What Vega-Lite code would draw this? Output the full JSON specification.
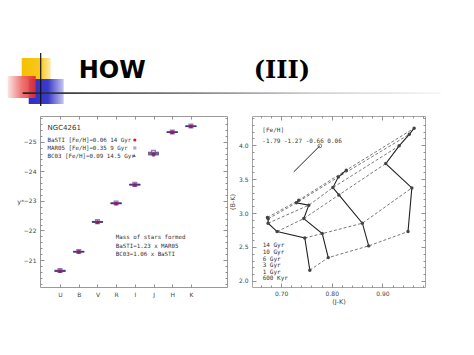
{
  "$schema": "https://vega.github.io/schema/vega-lite/v6.json",
  "background": "white",
  "padding": {"left": 7, "top": 52, "right": 0, "bottom": 0},
  "bounds": "flush",
  "spacing": 10,
  "config": {
    "view": {"stroke": null},
    "axis": {"grid": false, "domain": false, "labelFont": "DejaVu Sans", "labelFontSize": 6, "labelColor": "#444", "tickColor": "#777", "tickWidth": 0.8, "titleFont": "DejaVu Sans", "titleFontSize": 6.5, "titleFontWeight": "normal", "titleColor": "#444"}
  },
  "datasets": {
    "deco": [
      {"shape": "yellow", "x": 21, "x2": 50, "y": 57, "y2": 78},
      {"shape": "blue", "x": 28, "x2": 63, "y": 78, "y2": 103},
      {"shape": "red", "x": 7, "x2": 35, "y": 75, "y2": 97},
      {"shape": "underline", "x": 22, "x2": 440, "y": 91.2, "y2": 93},
      {"shape": "vline", "x": 40, "x2": 40, "y": 52, "y2": 105}
    ],
    "titles": [
      {"label": "HOW", "x": 78, "y": 77.3},
      {"label": "(III)", "x": 253, "y": 77.3}
    ],
    "sed": [
      {"band": "U", "pos": 1, "model": "BaSTI", "mag": -20.63},
      {"band": "U", "pos": 1, "model": "MAR05", "mag": -20.65},
      {"band": "U", "pos": 1, "model": "BC03", "mag": -20.62},
      {"band": "B", "pos": 2, "model": "BaSTI", "mag": -21.28},
      {"band": "B", "pos": 2, "model": "MAR05", "mag": -21.29},
      {"band": "B", "pos": 2, "model": "BC03", "mag": -21.28},
      {"band": "V", "pos": 3, "model": "BaSTI", "mag": -22.28},
      {"band": "V", "pos": 3, "model": "MAR05", "mag": -22.3},
      {"band": "V", "pos": 3, "model": "BC03", "mag": -22.29},
      {"band": "R", "pos": 4, "model": "BaSTI", "mag": -22.91},
      {"band": "R", "pos": 4, "model": "MAR05", "mag": -22.93},
      {"band": "R", "pos": 4, "model": "BC03", "mag": -22.92},
      {"band": "I", "pos": 5, "model": "BaSTI", "mag": -23.54},
      {"band": "I", "pos": 5, "model": "MAR05", "mag": -23.56},
      {"band": "I", "pos": 5, "model": "BC03", "mag": -23.55},
      {"band": "J", "pos": 6, "model": "BaSTI", "mag": -24.56},
      {"band": "J", "pos": 6, "model": "MAR05", "mag": -24.64},
      {"band": "J", "pos": 6, "model": "BC03", "mag": -24.6},
      {"band": "H", "pos": 7, "model": "BaSTI", "mag": -25.32},
      {"band": "H", "pos": 7, "model": "MAR05", "mag": -25.33},
      {"band": "H", "pos": 7, "model": "BC03", "mag": -25.32},
      {"band": "K", "pos": 8, "model": "BaSTI", "mag": -25.52},
      {"band": "K", "pos": 8, "model": "MAR05", "mag": -25.53},
      {"band": "K", "pos": 8, "model": "BC03", "mag": -25.52}
    ],
    "legendSym": [
      {"model": "BaSTI", "pos": 5.0, "mag": -25.06},
      {"model": "MAR05", "pos": 5.0, "mag": -24.79},
      {"model": "BC03", "pos": 4.97, "mag": -24.53}
    ],
    "sedText": [
      {"label": "NGC4261", "pos": 0.33, "mag": -25.46},
      {"label": "BaSTI [Fe/H]=0.06 14 Gyr", "pos": 0.33, "mag": -25.06},
      {"label": "MAR05 [Fe/H]=0.35 9 Gyr", "pos": 0.33, "mag": -24.79},
      {"label": "BC03 [Fe/H]=0.09 14.5 Gyr", "pos": 0.33, "mag": -24.53},
      {"label": "Mass of stars formed", "pos": 3.98, "mag": -21.78},
      {"label": "BaSTI=1.23 x MAR05", "pos": 3.98, "mag": -21.49},
      {"label": "BC03=1.06 x BaSTI", "pos": 3.98, "mag": -21.2}
    ],
    "iso": [
      {"feh": "-1.79", "fehOrder": 1, "age": "14 Gyr", "ageOrder": 1, "jk": 0.673, "bk": 2.935},
      {"feh": "-1.79", "fehOrder": 1, "age": "10 Gyr", "ageOrder": 2, "jk": 0.6745, "bk": 2.915},
      {"feh": "-1.79", "fehOrder": 1, "age": "6 Gyr", "ageOrder": 3, "jk": 0.6743, "bk": 2.85},
      {"feh": "-1.79", "fehOrder": 1, "age": "3 Gyr", "ageOrder": 4, "jk": 0.6921, "bk": 2.727},
      {"feh": "-1.79", "fehOrder": 1, "age": "1 Gyr", "ageOrder": 5, "jk": 0.7468, "bk": 2.633},
      {"feh": "-1.79", "fehOrder": 1, "age": "600 Kyr", "ageOrder": 6, "jk": 0.7567, "bk": 2.158},
      {"feh": "-1.27", "fehOrder": 2, "age": "14 Gyr", "ageOrder": 1, "jk": 0.7349, "bk": 3.189},
      {"feh": "-1.27", "fehOrder": 2, "age": "10 Gyr", "ageOrder": 2, "jk": 0.7303, "bk": 3.15},
      {"feh": "-1.27", "fehOrder": 2, "age": "6 Gyr", "ageOrder": 3, "jk": 0.7547, "bk": 3.116},
      {"feh": "-1.27", "fehOrder": 2, "age": "3 Gyr", "ageOrder": 4, "jk": 0.7448, "bk": 2.918},
      {"feh": "-1.27", "fehOrder": 2, "age": "1 Gyr", "ageOrder": 5, "jk": 0.7812, "bk": 2.697},
      {"feh": "-1.27", "fehOrder": 2, "age": "600 Kyr", "ageOrder": 6, "jk": 0.7931, "bk": 2.343},
      {"feh": "-0.66", "fehOrder": 3, "age": "14 Gyr", "ageOrder": 1, "jk": 0.8287, "bk": 3.632},
      {"feh": "-0.66", "fehOrder": 3, "age": "10 Gyr", "ageOrder": 2, "jk": 0.8129, "bk": 3.53},
      {"feh": "-0.66", "fehOrder": 3, "age": "6 Gyr", "ageOrder": 3, "jk": 0.8022, "bk": 3.375},
      {"feh": "-0.66", "fehOrder": 3, "age": "3 Gyr", "ageOrder": 4, "jk": 0.8141, "bk": 3.267},
      {"feh": "-0.66", "fehOrder": 3, "age": "1 Gyr", "ageOrder": 5, "jk": 0.8604, "bk": 2.85},
      {"feh": "-0.66", "fehOrder": 3, "age": "600 Kyr", "ageOrder": 6, "jk": 0.8729, "bk": 2.516},
      {"feh": "0.06", "fehOrder": 4, "age": "14 Gyr", "ageOrder": 1, "jk": 0.9626, "bk": 4.25},
      {"feh": "0.06", "fehOrder": 4, "age": "10 Gyr", "ageOrder": 2, "jk": 0.953, "bk": 4.16},
      {"feh": "0.06", "fehOrder": 4, "age": "6 Gyr", "ageOrder": 3, "jk": 0.933, "bk": 3.99},
      {"feh": "0.06", "fehOrder": 4, "age": "3 Gyr", "ageOrder": 4, "jk": 0.9066, "bk": 3.729},
      {"feh": "0.06", "fehOrder": 4, "age": "1 Gyr", "ageOrder": 5, "jk": 0.958, "bk": 3.37},
      {"feh": "0.06", "fehOrder": 4, "age": "600 Kyr", "ageOrder": 6, "jk": 0.9505, "bk": 2.727}
    ],
    "vec": [
      {"seq": 1, "jk": 0.725, "bk": 3.607, "end": false},
      {"seq": 2, "jk": 0.7765, "bk": 3.99, "end": true}
    ],
    "isoText": [
      {"label": "[Fe/H]", "jk": 0.663, "bk": 4.218},
      {"label": "-1.79 -1.27 -0.66 0.06", "jk": 0.663, "bk": 4.063},
      {"label": "14 Gyr", "jk": 0.6636, "bk": 2.526},
      {"label": "10 Gyr", "jk": 0.6636, "bk": 2.427},
      {"label": "6 Gyr", "jk": 0.6636, "bk": 2.329},
      {"label": "3 Gyr", "jk": 0.6636, "bk": 2.231},
      {"label": "1 Gyr", "jk": 0.6636, "bk": 2.137},
      {"label": "600 Kyr", "jk": 0.6636, "bk": 2.044}
    ]
  },
  "vconcat": [
    {
      "width": 400,
      "height": 53,
      "layer": [
        {
          "data": {"name": "deco"},
          "transform": [{"filter": "datum.shape == 'yellow'"}],
          "mark": {"type": "rect", "fill": {"gradient": "linear", "x1": 0, "y1": 0, "x2": 1, "y2": 0, "stops": [{"offset": 0, "color": "#f5c000"}, {"offset": 0.65, "color": "#f8c81c"}, {"offset": 1, "color": "#fdebb0"}]}},
          "encoding": {
            "x": {"field": "x", "type": "quantitative", "scale": {"domain": [39.3, 439.3], "nice": false, "zero": false}, "axis": null},
            "x2": {"field": "x2"},
            "y": {"field": "y", "type": "quantitative", "scale": {"domain": [52, 105], "reverse": true, "nice": false, "zero": false}, "axis": null},
            "y2": {"field": "y2"}
          }
        },
        {
          "data": {"name": "deco"},
          "transform": [{"filter": "datum.shape == 'blue'"}],
          "mark": {"type": "rect", "fill": {"gradient": "linear", "x1": 0, "y1": 0, "x2": 1, "y2": 0, "stops": [{"offset": 0, "color": "#2f2fc4"}, {"offset": 0.55, "color": "#3a3ac9"}, {"offset": 1, "color": "#c5c5f0"}]}},
          "encoding": {
            "x": {"field": "x", "type": "quantitative"},
            "x2": {"field": "x2"},
            "y": {"field": "y", "type": "quantitative"},
            "y2": {"field": "y2"}
          }
        },
        {
          "data": {"name": "deco"},
          "transform": [{"filter": "datum.shape == 'red'"}],
          "mark": {"type": "rect", "opacity": 0.92, "fill": {"gradient": "linear", "x1": 0, "y1": 0, "x2": 1, "y2": 0, "stops": [{"offset": 0, "color": "#fbe3e3"}, {"offset": 0.5, "color": "#ee6a6a"}, {"offset": 1, "color": "#e02a2a"}]}},
          "encoding": {
            "x": {"field": "x", "type": "quantitative"},
            "x2": {"field": "x2"},
            "y": {"field": "y", "type": "quantitative"},
            "y2": {"field": "y2"}
          }
        },
        {
          "data": {"name": "deco"},
          "transform": [{"filter": "datum.shape == 'underline'"}],
          "mark": {"type": "rect", "fill": {"gradient": "linear", "x1": 0, "y1": 0, "x2": 1, "y2": 0, "stops": [{"offset": 0, "color": "#222222"}, {"offset": 0.35, "color": "#777777"}, {"offset": 0.7, "color": "#cfcfcf"}, {"offset": 1, "color": "#f6f6f6"}]}},
          "encoding": {
            "x": {"field": "x", "type": "quantitative"},
            "x2": {"field": "x2"},
            "y": {"field": "y", "type": "quantitative"},
            "y2": {"field": "y2"}
          }
        },
        {
          "data": {"name": "deco"},
          "transform": [{"filter": "datum.shape == 'vline'"}],
          "mark": {"type": "rule", "color": "#111", "strokeWidth": 1.2},
          "encoding": {
            "x": {"field": "x", "type": "quantitative"},
            "y": {"field": "y", "type": "quantitative"},
            "y2": {"field": "y2"}
          }
        },
        {
          "data": {"name": "titles"},
          "transform": [{"filter": "datum.label == 'HOW'"}],
          "mark": {"type": "text", "font": "DejaVu Sans", "fontWeight": "bold", "fontSize": 24, "align": "left", "baseline": "alphabetic", "color": "#000"},
          "encoding": {
            "x": {"field": "x", "type": "quantitative"},
            "y": {"field": "y", "type": "quantitative"},
            "text": {"field": "label"}
          }
        },
        {
          "data": {"name": "titles"},
          "transform": [{"filter": "datum.label != 'HOW'"}],
          "mark": {"type": "text", "font": "DejaVu Serif", "fontWeight": "bold", "fontSize": 24, "align": "left", "baseline": "alphabetic", "color": "#000"},
          "encoding": {
            "x": {"field": "x", "type": "quantitative"},
            "y": {"field": "y", "type": "quantitative"},
            "text": {"field": "label"}
          }
        }
      ]
    },
    {
      "bounds": "flush",
      "spacing": 25,
      "hconcat": [
        {
          "width": 187,
          "height": 171,
          "view": {"stroke": "#9a9a9a", "strokeWidth": 1},
          "resolve": {"axis": {"x": "independent", "y": "independent"}},
          "layer": [
            {
              "data": {"name": "sed"},
              "mark": {"type": "point", "opacity": 0},
              "encoding": {
                "x": {"field": "pos", "type": "quantitative", "scale": {"domain": [-0.071, 9.93], "nice": false, "zero": false},
                  "axis": {"orient": "bottom", "values": [1, 2, 3, 4, 5, 6, 7, 8], "labelExpr": "['U','B','V','R','I','J','H','K'][datum.value - 1]", "tickSize": -3, "labelPadding": 7, "title": null}},
                "y": {"field": "mag", "type": "quantitative", "scale": {"domain": [-25.87, -20.09], "reverse": true, "nice": false, "zero": false},
                  "axis": {"orient": "left", "values": [-25.8, -25.6, -25.4, -25.2, -25, -24.8, -24.6, -24.4, -24.2, -24, -23.8, -23.6, -23.4, -23.2, -23, -22.8, -22.6, -22.4, -22.2, -22, -21.8, -21.6, -21.4, -21.2, -21, -20.8, -20.6, -20.4, -20.2],
                    "labelExpr": "abs(datum.value - round(datum.value)) < 0.01 ? format(datum.value, 'd') : ''",
                    "tickSize": {"condition": {"test": "abs(datum.value - round(datum.value)) < 0.01", "value": -4}, "value": -2},
                    "labelPadding": 8, "title": "yᵃ", "titleAngle": 0, "titleX": -20, "titleY": 85, "titleAlign": "center", "titleBaseline": "middle", "titleFontSize": 6.5}}
              }
            },
            {
              "data": {"name": "sed"},
              "mark": {"type": "point", "opacity": 0},
              "encoding": {
                "x": {"field": "pos", "type": "quantitative", "axis": {"orient": "top", "values": [1, 2, 3, 4, 5, 6, 7, 8], "labels": false, "tickSize": -3, "title": null}},
                "y": {"field": "mag", "type": "quantitative", "axis": {"orient": "right", "values": [-25.8, -25.6, -25.4, -25.2, -25, -24.8, -24.6, -24.4, -24.2, -24, -23.8, -23.6, -23.4, -23.2, -23, -22.8, -22.6, -22.4, -22.2, -22, -21.8, -21.6, -21.4, -21.2, -21, -20.8, -20.6, -20.4, -20.2], "labels": false,
                  "tickSize": {"condition": {"test": "abs(datum.value - round(datum.value)) < 0.01", "value": -4}, "value": -2}, "title": null}}
              }
            },
            {
              "data": {"name": "sed"},
              "mark": {"type": "tick", "orient": "horizontal", "size": 11, "thickness": 1.4, "color": "#3a2a72"},
              "encoding": {
                "x": {"field": "pos", "type": "quantitative", "axis": null},
                "y": {"field": "mag", "type": "quantitative", "axis": null}
              }
            },
            {
              "data": {"name": "sed"},
              "transform": [{"filter": "datum.model == 'MAR05'"}],
              "mark": {"type": "point", "shape": "square", "filled": false, "size": 15, "strokeWidth": 1.2, "color": "#7a3d9e"},
              "encoding": {
                "x": {"field": "pos", "type": "quantitative", "axis": null},
                "y": {"field": "mag", "type": "quantitative", "axis": null}
              }
            },
            {
              "data": {"name": "sed"},
              "transform": [{"filter": "datum.model == 'BC03'"}],
              "mark": {"type": "point", "shape": "triangle-up", "filled": true, "size": 14, "color": "#3b3f96"},
              "encoding": {
                "x": {"field": "pos", "type": "quantitative", "axis": null},
                "y": {"field": "mag", "type": "quantitative", "axis": null}
              }
            },
            {
              "data": {"name": "sed"},
              "transform": [{"filter": "datum.model == 'BaSTI'"}],
              "mark": {"type": "point", "shape": "circle", "filled": true, "size": 15, "opacity": 0.85, "color": "#8e1f5a"},
              "encoding": {
                "x": {"field": "pos", "type": "quantitative", "axis": null},
                "y": {"field": "mag", "type": "quantitative", "axis": null}
              }
            },
            {
              "data": {"name": "legendSym"},
              "mark": {"type": "point", "filled": true, "size": 10, "opacity": 1},
              "encoding": {
                "x": {"field": "pos", "type": "quantitative", "axis": null},
                "y": {"field": "mag", "type": "quantitative", "axis": null},
                "shape": {"field": "model", "type": "nominal", "scale": {"domain": ["BaSTI", "MAR05", "BC03"], "range": ["circle", "square", "triangle-up"]}, "legend": null},
                "color": {"field": "model", "type": "nominal", "scale": {"domain": ["BaSTI", "MAR05", "BC03"], "range": ["#c4202c", "#b8a0e0", "#4060b0"]}, "legend": null}
              }
            },
            {
              "data": {"name": "sedText"},
              "transform": [{"filter": "datum.label == 'NGC4261'"}],
              "mark": {"type": "text", "font": "DejaVu Sans", "fontSize": 7, "align": "left", "baseline": "middle", "color": "#333"},
              "encoding": {
                "x": {"field": "pos", "type": "quantitative", "axis": null},
                "y": {"field": "mag", "type": "quantitative", "axis": null},
                "text": {"field": "label"}
              }
            },
            {
              "data": {"name": "sedText"},
              "transform": [{"filter": "datum.label != 'NGC4261'"}],
              "mark": {"type": "text", "font": "DejaVu Sans Mono", "fontSize": 5.8, "align": "left", "baseline": "middle", "color": "#333"},
              "encoding": {
                "x": {"field": "pos", "type": "quantitative", "axis": null},
                "y": {"field": "mag", "type": "quantitative", "axis": null},
                "text": {"field": "label"}
              }
            }
          ]
        },
        {
          "width": 173,
          "height": 171,
          "view": {"stroke": "#a5a5a5", "strokeWidth": 1},
          "resolve": {"axis": {"x": "independent", "y": "independent"}},
          "layer": [
            {
              "data": {"name": "iso"},
              "mark": {"type": "point", "opacity": 0},
              "encoding": {
                "x": {"field": "jk", "type": "quantitative", "scale": {"domain": [0.6426, 0.984], "nice": false, "zero": false},
                  "axis": {"orient": "bottom", "values": [0.66, 0.68, 0.7, 0.72, 0.74, 0.76, 0.78, 0.8, 0.82, 0.84, 0.86, 0.88, 0.9, 0.92, 0.94, 0.96, 0.98],
                    "labelExpr": "abs(datum.value * 10 - round(datum.value * 10)) < 0.001 ? format(datum.value, '.2f') : ''",
                    "tickSize": {"condition": {"test": "abs(datum.value * 10 - round(datum.value * 10)) < 0.001", "value": -4}, "value": -2},
                    "labelPadding": 7, "title": "(J-K)", "titlePadding": 2}},
                "y": {"field": "bk", "type": "quantitative", "scale": {"domain": [1.91, 4.43], "nice": false, "zero": false},
                  "axis": {"orient": "left", "values": [2.0, 2.1, 2.2, 2.3, 2.4, 2.5, 2.6, 2.7, 2.8, 2.9, 3.0, 3.1, 3.2, 3.3, 3.4, 3.5, 3.6, 3.7, 3.8, 3.9, 4.0, 4.1, 4.2, 4.3, 4.4],
                    "labelExpr": "abs(datum.value * 2 - round(datum.value * 2)) < 0.001 ? format(datum.value, '.1f') : ''",
                    "tickSize": {"condition": {"test": "abs(datum.value * 2 - round(datum.value * 2)) < 0.001", "value": -4}, "value": -2},
                    "labelPadding": 8, "title": "(B-K)", "titlePadding": 3}}
              }
            },
            {
              "data": {"name": "iso"},
              "mark": {"type": "point", "opacity": 0},
              "encoding": {
                "x": {"field": "jk", "type": "quantitative", "axis": {"orient": "top", "values": [0.66, 0.68, 0.7, 0.72, 0.74, 0.76, 0.78, 0.8, 0.82, 0.84, 0.86, 0.88, 0.9, 0.92, 0.94, 0.96, 0.98], "labels": false,
                  "tickSize": {"condition": {"test": "abs(datum.value * 10 - round(datum.value * 10)) < 0.001", "value": -4}, "value": -2}, "title": null}},
                "y": {"field": "bk", "type": "quantitative", "axis": {"orient": "right", "values": [2.0, 2.1, 2.2, 2.3, 2.4, 2.5, 2.6, 2.7, 2.8, 2.9, 3.0, 3.1, 3.2, 3.3, 3.4, 3.5, 3.6, 3.7, 3.8, 3.9, 4.0, 4.1, 4.2, 4.3, 4.4], "labels": false,
                  "tickSize": {"condition": {"test": "abs(datum.value * 2 - round(datum.value * 2)) < 0.001", "value": -4}, "value": -2}, "title": null}}
              }
            },
            {
              "data": {"name": "iso"},
              "mark": {"type": "line", "color": "#555", "strokeWidth": 0.8, "strokeDash": [3, 2]},
              "encoding": {
                "x": {"field": "jk", "type": "quantitative", "axis": null},
                "y": {"field": "bk", "type": "quantitative", "axis": null},
                "detail": {"field": "age", "type": "nominal"},
                "order": {"field": "fehOrder", "type": "quantitative"}
              }
            },
            {
              "data": {"name": "iso"},
              "mark": {"type": "line", "color": "#222", "strokeWidth": 1.1},
              "encoding": {
                "x": {"field": "jk", "type": "quantitative", "axis": null},
                "y": {"field": "bk", "type": "quantitative", "axis": null},
                "detail": {"field": "feh", "type": "nominal"},
                "order": {"field": "ageOrder", "type": "quantitative"}
              }
            },
            {
              "data": {"name": "iso"},
              "mark": {"type": "point", "filled": true, "size": 12, "color": "#444", "opacity": 1},
              "encoding": {
                "x": {"field": "jk", "type": "quantitative", "axis": null},
                "y": {"field": "bk", "type": "quantitative", "axis": null}
              }
            },
            {
              "data": {"name": "vec"},
              "mark": {"type": "line", "color": "#222", "strokeWidth": 1},
              "encoding": {
                "x": {"field": "jk", "type": "quantitative", "axis": null},
                "y": {"field": "bk", "type": "quantitative", "axis": null},
                "order": {"field": "seq", "type": "quantitative"}
              }
            },
            {
              "data": {"name": "vec"},
              "transform": [{"filter": "datum.end"}],
              "mark": {"type": "point", "filled": false, "size": 14, "color": "#333", "strokeWidth": 0.9},
              "encoding": {
                "x": {"field": "jk", "type": "quantitative", "axis": null},
                "y": {"field": "bk", "type": "quantitative", "axis": null}
              }
            },
            {
              "data": {"name": "isoText"},
              "mark": {"type": "text", "font": "DejaVu Sans Mono", "fontSize": 6, "align": "left", "baseline": "middle", "color": "#333"},
              "encoding": {
                "x": {"field": "jk", "type": "quantitative", "axis": null},
                "y": {"field": "bk", "type": "quantitative", "axis": null},
                "text": {"field": "label"}
              }
            }
          ]
        }
      ]
    }
  ]
}
